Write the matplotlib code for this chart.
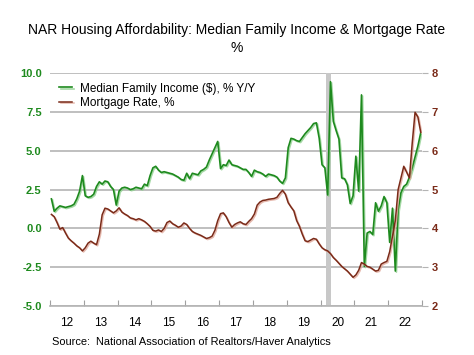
import numpy as np
import matplotlib
matplotlib.use("Agg")
import matplotlib.pyplot as plt
import matplotlib.patheffects as pe

plt.rcParams['font.family'] = ['Liberation Sans', 'DejaVu Sans']

# monthly data, Jan 2012 .. Dec 2022
years = list(range(2012, 2023))
income_yoy = [
    1.9, 1.1, 1.3, 1.45, 1.4, 1.35, 1.4, 1.45, 1.55, 1.9, 2.4, 3.4,      # 2012
    2.1, 2.0, 2.05, 2.2, 2.7, 3.0, 2.85, 3.05, 3.0, 2.7, 2.5, 1.5,       # 2013
    2.4, 2.6, 2.65, 2.6, 2.5, 2.55, 2.65, 2.6, 2.55, 2.85, 2.75, 3.4,    # 2014
    3.9, 4.0, 3.75, 3.6, 3.65, 3.6, 3.55, 3.5, 3.4, 3.3, 3.15, 3.1,      # 2015
    3.55, 3.2, 3.55, 3.5, 3.45, 3.7, 3.8, 3.95, 4.4, 4.8, 5.2, 5.6,      # 2016
    3.85, 4.1, 4.05, 4.4, 4.1, 4.05, 4.0, 3.9, 3.8, 3.8, 3.6, 3.35,      # 2017
    3.75, 3.65, 3.6, 3.5, 3.35, 3.5, 3.45, 3.4, 3.3, 3.05, 2.9, 3.25,    # 2018
    5.2, 5.8, 5.75, 5.65, 5.6, 5.85, 6.1, 6.3, 6.5, 6.75, 6.8, 5.8,      # 2019
    4.1, 3.9, 2.15, 9.45, 6.9, 6.3, 5.75, 3.25, 3.2, 2.8, 1.6, 2.1,      # 2020
    4.65, 2.4, 8.6, -2.45, -0.3, -0.2, -0.4, 1.65, 1.1, 1.45, 2.05, 1.65,  # 2021
    -0.9, 1.3, -2.75, 1.2, 2.3, 2.7, 2.85, 3.3, 3.9, 4.6, 5.3, 6.15,    # 2022
]
mortgage_rate = [
    4.36, 4.3, 4.15, 3.98, 4.02, 3.88, 3.75, 3.68, 3.62, 3.55, 3.5, 3.42,   # 2012
    3.5, 3.62, 3.67, 3.62, 3.58, 3.85, 4.35, 4.52, 4.5, 4.45, 4.4, 4.45,    # 2013
    4.53, 4.42, 4.37, 4.33, 4.27, 4.25, 4.22, 4.25, 4.22, 4.18, 4.12, 4.05, # 2014
    3.95, 3.93, 3.96, 3.92, 4.0, 4.15, 4.19, 4.12, 4.08, 4.03, 4.06, 4.14,  # 2015
    4.1, 4.0, 3.92, 3.88, 3.85, 3.82, 3.78, 3.74, 3.76, 3.8, 3.95, 4.2,     # 2016
    4.38, 4.4, 4.3, 4.15, 4.03, 4.1, 4.14, 4.17, 4.12, 4.1, 4.18, 4.25,     # 2017
    4.37, 4.6, 4.68, 4.72, 4.73, 4.75, 4.76, 4.77, 4.8, 4.9, 4.98, 4.88,    # 2018
    4.66, 4.55, 4.45, 4.2, 4.05, 3.85, 3.68, 3.66, 3.7, 3.74, 3.72, 3.6,    # 2019
    3.5, 3.45, 3.42, 3.35, 3.25, 3.18, 3.1, 3.02, 2.96, 2.9, 2.82, 2.74,    # 2020
    2.8, 2.92, 3.12, 3.08, 3.02, 3.0, 2.95, 2.9, 2.92, 3.08, 3.12, 3.15,    # 2021
    3.4, 3.8, 4.2, 5.0, 5.3, 5.6, 5.45, 5.3, 6.2, 6.99, 6.87, 6.48,         # 2022
]
recession = (2020.16, 2020.31)
left_ticks = [-5.0, -2.5, 0.0, 2.5, 5.0, 7.5, 10.0]
right_ticks = [2, 3, 4, 5, 6, 7, 8]
year_labels = [str(y)[2:] for y in years]

GREEN = '#1e8a1e'
BROWN = '#7a2a18'

t = np.array([y + (m + 0.5) / 12 for y in years for m in range(12)])

fig = plt.figure(figsize=(4.74, 3.55), dpi=100)
ax = fig.add_axes([0.1055, 0.138, 0.785, 0.656])
ax2 = ax.twinx()

ax.set_xlim(2012, 2023)
ax.set_ylim(-5, 10)
ax2.set_ylim(2, 8)

for yv in left_ticks:
    ax.axhline(yv, color='#b4b4b4', lw=1.2, zorder=0)
ax.axvspan(*recession, color='#c8c8c8', lw=0, zorder=1)

shadow_g = [pe.SimpleLineShadow(offset=(0.8, -0.8), shadow_color='#8fd08f', alpha=0.8), pe.Normal()]
shadow_b = [pe.SimpleLineShadow(offset=(0.8, -0.8), shadow_color='#e0a89a', alpha=0.8), pe.Normal()]

l1, = ax.plot(t, income_yoy, color=GREEN, lw=1.2, zorder=3, path_effects=shadow_g,
              label='Median Family Income ($), % Y/Y')
l2, = ax2.plot(t, mortgage_rate, color=BROWN, lw=1.1, zorder=3, path_effects=shadow_b,
               label='Mortgage Rate, %')

for a in (ax, ax2):
    for s in a.spines.values():
        s.set_visible(False)
ax.spines['bottom'].set_visible(True)
ax.spines['bottom'].set_color('#b4b4b4')
ax.spines['bottom'].set_linewidth(1.2)

ax.set_yticks(left_ticks)
ax.set_yticklabels([f'{v:.1f}' for v in left_ticks], color=GREEN, fontweight='bold', fontsize=8)
ax.tick_params(axis='y', length=0, pad=6)
ax2.set_yticks(right_ticks)
ax2.set_yticklabels([str(v) for v in right_ticks], color=BROWN, fontweight='bold', fontsize=8)
ax2.tick_params(axis='y', length=4, color='#b4b4b4', pad=3)

ax.set_xticks(list(years) + [2023])
ax.set_xticklabels([])
ax.set_xticks([y + 0.5 for y in years], minor=True)
ax.set_xticklabels(year_labels, minor=True, fontsize=8.5)
ax.tick_params(axis='x', which='major', direction='in', length=4, color='#a0a0a0')
ax.tick_params(axis='x', which='minor', length=0, pad=8)

ax.legend(handles=[l1, l2], loc='upper left', bbox_to_anchor=(0.0, 1.0), frameon=False,
          fontsize=8.5, handlelength=1.1, handletextpad=0.6, labelspacing=0.2,
          borderaxespad=0.4)

fig.text(0.5, 0.915, 'NAR Housing Affordability: Median Family Income & Mortgage Rate',
         ha='center', va='center', fontsize=10)
fig.text(0.5, 0.866, '%', ha='center', va='center', fontsize=10)
fig.text(0.11, 0.037, 'Source:  National Association of Realtors/Haver Analytics',
         ha='left', va='center', fontsize=7.9)

fig.savefig('out.png', dpi=100)
